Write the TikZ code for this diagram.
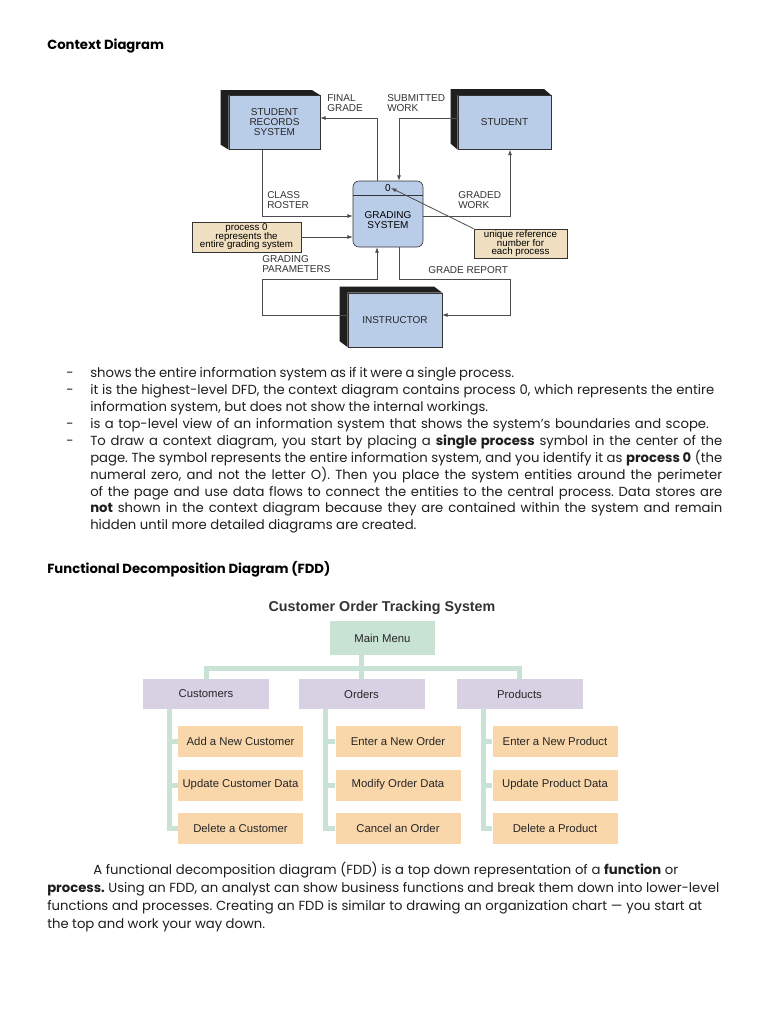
\documentclass[tikz,border=0pt]{standalone}
\usepackage{fontspec}
\setmainfont{Poppins}
\newfontfamily\arialfont{Liberation Sans}
\usetikzlibrary{positioning,arrows.meta}

\definecolor{entityblue}{RGB}{186,205,232}
\definecolor{notetan}{RGB}{240,223,193}
\definecolor{menugreen}{RGB}{200,226,212}
\definecolor{grouplilac}{RGB}{216,209,228}
\definecolor{taskorange}{RGB}{249,215,170}
\definecolor{inkgray}{RGB}{30,30,30}

\newcommand\bodyfont{\fontsize{9.9}{11}\selectfont\frenchspacing}
\newcommand\dfdfont{\arialfont\fontsize{7.5}{7.5}\selectfont\lineskiplimit=-5pt\relax}
\newcommand\notefont{\arialfont\fontsize{7.3}{6.4}\selectfont\lineskiplimit=-5pt\relax}
\newcommand\fddfont{\arialfont\fontsize{8.5}{10}\selectfont}
\newcommand\backface[3]{\fill[shade3d] (#1.south west) -- ++(-#2,-#3)
  -- ([shift={(-#2,-#3)}]#1.north west) -- ([shift={(-#2,-#3)}]#1.north east)
  -- (#1.north east) -- (#1.north west) -- cycle;}

\tikzset{
  txtline/.style={anchor=base west, inner sep=0pt, font=\bodyfont, text=inkgray},
  heading/.style={anchor=base west, inner sep=0pt, font=\bodyfont\bfseries, text=black},
  entity/.style={draw=black!80, line width=0.4pt, fill=entityblue, align=center,
    font=\dfdfont, text=black!85, inner sep=0pt, minimum height=40.5pt},
  process/.style={draw=black!80, line width=0.5pt, fill=entityblue, rounded corners=4.5pt,
    minimum width=52.5pt, minimum height=49.5pt, inner sep=0pt},
  note/.style={draw=black!80, line width=0.4pt, fill=notetan, align=center,
    font=\notefont, inner sep=0pt},
  flowlabel/.style={anchor=west, align=left, font=\dfdfont, text=black!80, inner sep=0pt},
  flow/.style={draw=black!70, line width=0.6pt, -{Latex[length=4pt,width=3pt]}},
  shade3d/.style={fill=black!88},
  menubox/.style={fill=menugreen, minimum width=78.75pt, minimum height=25.5pt,
    font=\fddfont, text=black!85, inner sep=0pt},
  groupbox/.style={fill=grouplilac, minimum width=94.5pt, minimum height=22.5pt,
    font=\fddfont, text=black!85, inner sep=0pt},
  taskbox/.style={fill=taskorange, minimum width=93.75pt, minimum height=23.25pt,
    font=\fddfont, text=black!85, inner sep=0pt},
  fddline/.style={draw=menugreen, line width=3.75pt},
}

\begin{document}
\begin{tikzpicture}[x=0.75pt, y=-0.75pt]
  \useasboundingbox (0,0) rectangle (768,1024);
  \fill[white] (0,0) rectangle (768,1024);

  % context diagram
  \node[heading] (ctxhead) at (47,50) {Context Diagram};

  \node[entity, minimum width=68.25pt] (records) at (274.5,122.5) {STUDENT\\RECORDS\\SYSTEM};
  \node[entity, minimum width=69.75pt] (student) at (504.5,122.5) {STUDENT};
  \node[entity, minimum width=70.5pt] (instructor) at (395,320) {INSTRUCTOR};
  \backface{records}{8}{5}
  \backface{student}{7}{6}
  \backface{instructor}{8}{6}

  \node[process] (grading) at (388,214) {};
  \node[font=\dfdfont, inner sep=0pt] (zero) at (388,188) {0};
  \node[font=\dfdfont, align=center, inner sep=0pt] (gradtext) at (388,220) {GRADING\\SYSTEM};
  \draw[black!80, line width=0.5pt] (grading.west |- 0,195) -- (grading.east |- 0,195);

  \node[note, minimum width=81.75pt, minimum height=22.5pt] (notezero) at (246.5,237)
    {process 0\\represents the\\entire grading system};
  \node[note, minimum width=69.75pt, minimum height=21.75pt] (noteref) at (520.5,243.5)
    {unique reference\\number for\\each process};

  \coordinate (fgbend) at (377,118);
  \coordinate (swbend) at (399,118);
  \coordinate (crbend) at (262,216);
  \coordinate (gwbend) at (510,216);
  \coordinate (gpbend) at (262,315);
  \coordinate (gpup) at (377,279);
  \coordinate (grdown) at (399,279);
  \coordinate (grbend) at (510,315);

  \draw[flow] (fgbend |- grading.north) -- (fgbend) -- (fgbend -| records.east);
  \draw[flow] (swbend -| student.west) -- (swbend) -- (swbend |- grading.north);
  \draw[flow] (crbend |- records.south) -- (crbend) -- (crbend -| grading.west);
  \draw[flow] (gwbend -| grading.east) -- (gwbend) -- (gwbend |- student.south);
  \draw[flow] (gpbend -| instructor.west) -- (gpbend) |- (gpup) -- (gpup |- grading.south);
  \draw[flow] (grdown |- grading.south) -- (grdown) -| (grbend) -- (grbend -| instructor.east);
  \draw[flow] (notezero.east) -- (notezero.east -| grading.west);
  \draw[flow] (noteref.north west) -- (zero.east);

  \node[flowlabel] (lblfinal) at (327,103.5) {FINAL\\GRADE};
  \node[flowlabel] (lblsubmit) at (387,103.5) {SUBMITTED\\WORK};
  \node[flowlabel] (lblroster) at (267,200.5) {CLASS\\ROSTER};
  \node[flowlabel] (lblgraded) at (458,200.5) {GRADED\\WORK};
  \node[flowlabel] (lblparams) at (262,264.5) {GRADING\\PARAMETERS};
  \node[flowlabel] (lblreport) at (428,270) {GRADE REPORT};

  % bullet list
  \node[txtline, anchor=base] (dashA) at (70,377) {-};
  \node[txtline, anchor=base] (dashB) at (70,394) {-};
  \node[txtline, anchor=base] (dashC) at (70,428) {-};
  \node[txtline, anchor=base] (dashD) at (70,445) {-};
  \node[txtline] (lineA1) at (90,377) {\makebox[318pt][s]{shows the entire information system as if it were a single process.}};
  \node[txtline] (lineB1) at (90,394) {\makebox[468pt][s]{it is the highest-level DFD, the context diagram contains process 0, which represents the entire}};
  \node[txtline] (lineB2) at (90,411) {\makebox[298.5pt][s]{information system, but does not show the internal workings.}};
  \node[txtline] (lineC1) at (90,428) {\makebox[464pt][s]{is a top-level view of an information system that shows the system’s boundaries and scope.}};
  \node[txtline] (lineD1) at (90,445) {\makebox[474pt][s]{To draw a context diagram, you start by placing a \textbf{single process} symbol in the center of the}};
  \node[txtline] (lineD2) at (90,462) {\makebox[474pt][s]{page. The symbol represents the entire information system, and you identify it as \textbf{process 0} (the}};
  \node[txtline] (lineD3) at (90,479) {\makebox[474pt][s]{numeral zero, and not the letter O). Then you place the system entities around the perimeter}};
  \node[txtline] (lineD4) at (90,496) {\makebox[474pt][s]{of the page and use data flows to connect the entities to the central process. Data stores are}};
  \node[txtline] (lineD5) at (90,512) {\makebox[474pt][s]{\textbf{not} shown in the context diagram because they are contained within the system and remain}};
  \node[txtline] (lineD6) at (90,529) {hidden until more detailed diagrams are created.};

  % functional decomposition diagram
  \node[heading] (fddhead) at (47,573) {Functional Decomposition Diagram (FDD)};

  \node[font=\arialfont\bfseries\fontsize{10.7}{13}\selectfont, text=black!80] (fddtitle) at (382,608)
    {Customer Order Tracking System};
  \node[menubox] (mainmenu) at (382.5,638) {Main Menu};
  \node[groupbox] (customers) at (206,694) {Customers};
  \node[groupbox] (orders) at (361.5,694) {Orders};
  \node[groupbox] (products) at (519.5,694) {Products};

  \node[taskbox] (addcust) at (240.5,741.5) {Add a New Customer};
  \node[taskbox, below=9pt of addcust] (updcust) {Update Customer Data};
  \node[taskbox, below=9pt of updcust] (delcust) {Delete a Customer};
  \node[taskbox] (neworder) at (398,741.5) {Enter a New Order};
  \node[taskbox, below=9pt of neworder] (modorder) {Modify Order Data};
  \node[taskbox, below=9pt of modorder] (canorder) {Cancel an Order};
  \node[taskbox] (newprod) at (555,741.5) {Enter a New Product};
  \node[taskbox, below=9pt of newprod] (updprod) {Update Product Data};
  \node[taskbox, below=9pt of updprod] (delprod) {Delete a Product};

  \coordinate (bar) at (361.5,668);
  \draw[fddline] (mainmenu.south -| bar) -- (orders.north);
  \draw[fddline] (customers.north) |- (bar) -| (products.north);

  \coordinate (custtrunk) at ([xshift=20.25pt]customers.south west);
  \coordinate (ordtrunk) at ([xshift=20.25pt]orders.south west);
  \coordinate (prodtrunk) at ([xshift=20.25pt]products.south west);
  \draw[fddline] (custtrunk) |- (delcust.west);
  \draw[fddline] (custtrunk |- addcust.west) -- (addcust.west);
  \draw[fddline] (custtrunk |- updcust.west) -- (updcust.west);
  \draw[fddline] (ordtrunk) |- (canorder.west);
  \draw[fddline] (ordtrunk |- neworder.west) -- (neworder.west);
  \draw[fddline] (ordtrunk |- modorder.west) -- (modorder.west);
  \draw[fddline] (prodtrunk) |- (delprod.west);
  \draw[fddline] (prodtrunk |- newprod.west) -- (newprod.west);
  \draw[fddline] (prodtrunk |- updprod.west) -- (updprod.west);

  % paragraph
  \node[txtline] (paraA) at (93,874) {\makebox[438.75pt][s]{A functional decomposition diagram (FDD) is a top down representation of a \textbf{function} or}};
  \node[txtline] (paraB) at (47,892) {\makebox[504pt][s]{\textbf{process.} Using an FDD, an analyst can show business functions and break them down into lower-level}};
  \node[txtline] (paraC) at (47,910) {\makebox[491.25pt][s]{functions and processes. Creating an FDD is similar to drawing an organization chart — you start at}};
  \node[txtline] (paraD) at (47,928) {the top and work your way down.};
\end{tikzpicture}
\end{document}
